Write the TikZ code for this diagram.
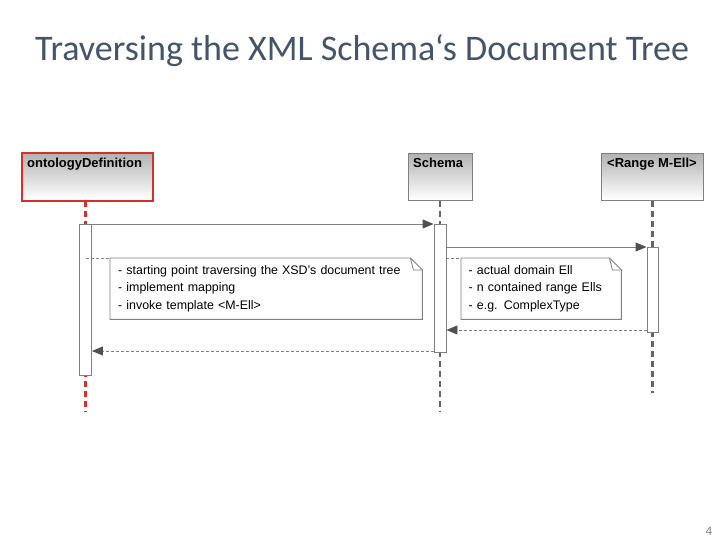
\documentclass[tikz,border=0pt]{standalone}
\usepackage{fontspec}
\setmainfont{Liberation Sans}
\newfontfamily\titlefont{Carlito}
\usetikzlibrary{arrows.meta,calc}
\definecolor{titleblue}{RGB}{68,84,106}
\definecolor{umlred}{RGB}{214,48,44}
\definecolor{umlgray}{RGB}{128,128,128}
\definecolor{lifegray}{RGB}{100,100,100}
\definecolor{tipgray}{RGB}{80,80,80}
\tikzset{
  x=1pt,y=-1pt,
  lifebox/.style={draw=umlgray,line width=0.9pt,
    minimum height=47pt,anchor=north west,inner sep=0pt},
  lifelabel/.style={font=\bfseries\fontsize{13}{15}\selectfont,anchor=base west,inner sep=0pt},
  lifeline/.style={line width=2.6pt,dash pattern=on 6pt off 4pt,lifegray},
  actbox/.style={draw=umlgray,fill=white,line width=0.9pt,minimum width=12pt,anchor=north,inner sep=0pt},
  msg/.style={draw=umlgray,line width=0.9pt,-{Triangle[length=11pt,width=9pt,fill=tipgray,color=tipgray]}},
  ret/.style={msg,dashed,dash pattern=on 3pt off 2pt},
  notelink/.style={draw=umlgray,line width=0.8pt,dash pattern=on 3pt off 2pt},
  notebox/.style={anchor=north west,inner sep=0pt,align=left,
    font=\fontsize{12.4}{17.5}\selectfont},
  noteline/.style={draw=umlgray,line width=0.9pt},
}
\newcommand{\gradbox}[1]{%
  \foreach \i in {0,...,23}{
    \pgfmathsetmacro{\shadeval}{30*(1-\i/23)}
    \pgfmathsetmacro{\fa}{\i/24}
    \pgfmathsetmacro{\fb}{(\i+1)/24}
    \fill[black!\shadeval] ($(#1.north west)!\fa!(#1.south west)$) rectangle ($(#1.north east)!\fb!(#1.south east)$);
  }}
\begin{document}
\begin{tikzpicture}
\useasboundingbox[fill=white] (0,0) rectangle (728,546);
% title
\node[anchor=base west,inner sep=0pt,text=titleblue,font=\titlefont\fontsize{36}{40}\selectfont] (title) at (35,60) {Traversing the XML Schema‘s Document Tree};
\node[anchor=base,inner sep=0pt,text=black!50,font=\titlefont\fontsize{13}{14}\selectfont] (pagenum) at (709,535) {4};

% lifeline heads
\node[lifebox,minimum width=130pt] (od) at (22,153) {};
\node[lifebox,minimum width=64pt] (sc) at (408,153) {};
\node[lifebox,minimum width=102pt] (rg) at (601,153) {};
\gradbox{od}\gradbox{sc}\gradbox{rg}
\draw[umlred,line width=1.3pt] (od.north west) rectangle (od.south east);
\draw[umlgray,line width=0.9pt] (sc.north west) rectangle (sc.south east);
\draw[umlgray,line width=0.9pt] (rg.north west) rectangle (rg.south east);
\node[lifelabel] (odl) at (27,167) {ontologyDefinition};
\node[lifelabel] (scl) at (413,167) {Schema};
\node[lifelabel] (rgl) at (607,167) {<Range M-Ell>};

% lifeline ends
\coordinate (odend) at (85.5,412);
\coordinate (scend) at (440,412);
\coordinate (rgend) at (652.5,393);
\draw[lifeline,umlred] (od.south -| odend) -- (odend);
\draw[lifeline] (sc.south -| scend) -- (scend);
\draw[lifeline] (rg.south -| rgend) -- (rgend);

% activations
\node[actbox,minimum height=151pt] (a1) at (85.5,224) {};
\node[actbox,minimum height=128pt] (a2) at (440,224) {};
\node[actbox,minimum height=85pt,minimum width=11pt] (a3) at (652.5,247) {};

% messages
\coordinate (r1) at (0,330);
\coordinate (r2) at (0,351);
\draw[msg] (a1.north east) -- (a2.north west);
\draw[msg] (a2.east |- a3.north) -- (a3.north west);
\draw[ret] (a3.west |- r1) -- (a2.east |- r1);
\draw[ret] (a2.west |- r2) -- (a1.east |- r2);

% notes
\node[notebox,text width=305pt,minimum width=312pt,minimum height=61pt] (n1) at (110,258)
  {\hspace*{4.5pt}- starting point traversing the XSD's document tree\\
   \hspace*{4.5pt}- implement mapping\\
   \hspace*{4.5pt}- invoke template <M-Ell>};
\node[notebox,text width=155pt,minimum width=160pt,minimum height=61pt] (n2) at (461,258)
  {\hspace*{5pt}- actual domain Ell\\
   \hspace*{5pt}- n contained range Ells\\
   \hspace*{5pt}- e.g. ComplexType};
\draw[noteline] (n1.north west) -- ([xshift=-12pt]n1.north east) -- ([yshift=-12pt]n1.north east)
  -- (n1.south east) -- (n1.south west) -- cycle;
\draw[noteline] ([xshift=-12pt]n1.north east) -- ([xshift=-9pt,yshift=-12pt]n1.north east) -- ([yshift=-12pt]n1.north east);
\draw[noteline] (n2.north west) -- ([xshift=-12pt]n2.north east) -- ([yshift=-12pt]n2.north east)
  -- (n2.south east) -- (n2.south west) -- cycle;
\draw[noteline] ([xshift=-12pt]n2.north east) -- ([xshift=-9pt,yshift=-12pt]n2.north east) -- ([yshift=-12pt]n2.north east);
\draw[notelink] (a1.center |- n1.north) -- (n1.north west);
\draw[notelink] (a2.east |- n2.north) -- (n2.north west);
\end{tikzpicture}
\end{document}
